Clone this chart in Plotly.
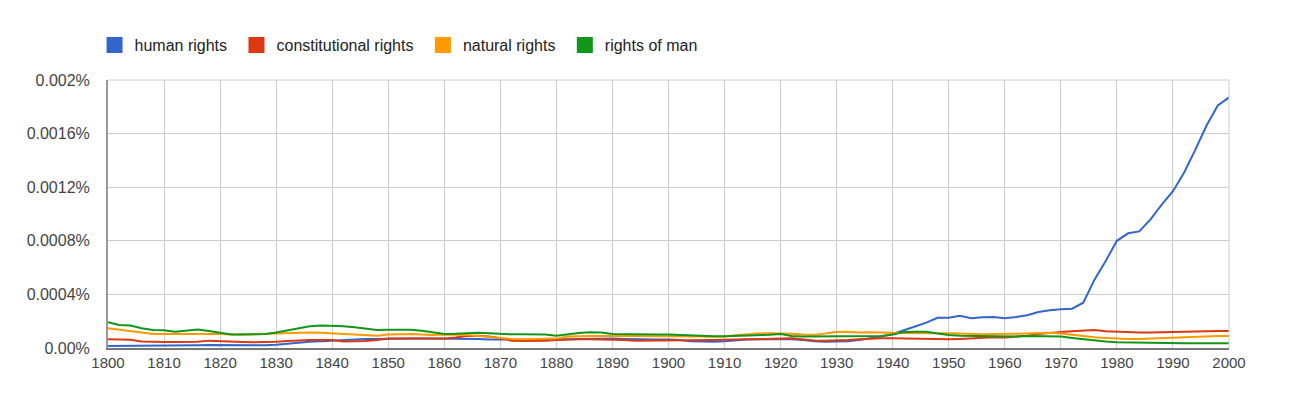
import plotly.graph_objects as go

years = list(range(1800, 2001, 2))

human_rights = [
    0.000015, 0.000015, 0.000015, 0.000015, 0.000015, 0.000015, 0.000016, 0.000017, 0.000020, 0.000022,
    0.000021, 0.000020, 0.000020, 0.000020, 0.000021, 0.000025, 0.000033, 0.000042, 0.000047, 0.000050,
    0.000055, 0.000062, 0.000065, 0.000067, 0.000068, 0.000070, 0.000070, 0.000070, 0.000070, 0.000070,
    0.000070, 0.000070, 0.000070, 0.000068, 0.000064, 0.000062, 0.000062, 0.000062, 0.000062, 0.000063,
    0.000065, 0.000068, 0.000070, 0.000070, 0.000070, 0.000070, 0.000068, 0.000065, 0.000063, 0.000063,
    0.000063, 0.000060, 0.000050, 0.000047, 0.000047, 0.000050, 0.000058, 0.000064, 0.000065, 0.000067,
    0.000067, 0.000066, 0.000060, 0.000050, 0.000047, 0.000047, 0.000050, 0.000060, 0.000070, 0.000085,
    0.000104, 0.000130, 0.000160, 0.000189, 0.000225, 0.000225, 0.000240, 0.000222, 0.000230, 0.000232,
    0.000222, 0.000232, 0.000244, 0.000268, 0.000282, 0.000289, 0.000293, 0.000338, 0.000510, 0.000650,
    0.000800, 0.000856, 0.000870, 0.000960, 0.001070, 0.001170, 0.001310, 0.001480, 0.001660, 0.001810,
    0.001870,
]

constitutional_rights = [
    0.000065, 0.000064, 0.000062, 0.000048, 0.000045, 0.000045, 0.000045, 0.000046, 0.000046, 0.000055,
    0.000050, 0.000045, 0.000045, 0.000043, 0.000043, 0.000047, 0.000052, 0.000058, 0.000060, 0.000060,
    0.000060, 0.000048, 0.000048, 0.000052, 0.000060, 0.000070, 0.000070, 0.000070, 0.000068, 0.000068,
    0.000070, 0.000078, 0.000090, 0.000092, 0.000085, 0.000072, 0.000055, 0.000052, 0.000052, 0.000055,
    0.000060, 0.000065, 0.000065, 0.000065, 0.000065, 0.000065, 0.000060, 0.000055, 0.000055, 0.000055,
    0.000058, 0.000060, 0.000060, 0.000060, 0.000060, 0.000062, 0.000065, 0.000065, 0.000065, 0.000065,
    0.000070, 0.000072, 0.000065, 0.000056, 0.000055, 0.000055, 0.000060, 0.000065, 0.000070, 0.000072,
    0.000072, 0.000070, 0.000068, 0.000065, 0.000065, 0.000065, 0.000068, 0.000072, 0.000078, 0.000080,
    0.000078, 0.000085, 0.000092, 0.000105, 0.000115, 0.000120, 0.000125, 0.000128, 0.000134, 0.000125,
    0.000120, 0.000115, 0.000115, 0.000116, 0.000118, 0.000120, 0.000125, 0.000127, 0.000127, 0.000127,
    0.000127,
]

natural_rights = [
    0.000147, 0.000137, 0.000130, 0.000115, 0.000104, 0.000104, 0.000106, 0.000106, 0.000104, 0.000105,
    0.000104, 0.000100, 0.000100, 0.000104, 0.000104, 0.000108, 0.000112, 0.000116, 0.000116, 0.000114,
    0.000110, 0.000108, 0.000100, 0.000095, 0.000092, 0.000100, 0.000104, 0.000104, 0.000100, 0.000097,
    0.000100, 0.000100, 0.000097, 0.000090, 0.000082, 0.000075, 0.000068, 0.000065, 0.000065, 0.000065,
    0.000070, 0.000085, 0.000090, 0.000090, 0.000090, 0.000088, 0.000090, 0.000090, 0.000090, 0.000090,
    0.000090, 0.000090, 0.000088, 0.000085, 0.000084, 0.000085, 0.000095, 0.000102, 0.000108, 0.000110,
    0.000110, 0.000106, 0.000100, 0.000098, 0.000108, 0.000120, 0.000122, 0.000115, 0.000118, 0.000118,
    0.000114, 0.000112, 0.000110, 0.000110, 0.000110, 0.000110, 0.000108, 0.000102, 0.000102, 0.000105,
    0.000108, 0.000106, 0.000108, 0.000112, 0.000114, 0.000108, 0.000097, 0.000090, 0.000080, 0.000075,
    0.000070, 0.000067, 0.000067, 0.000070, 0.000075, 0.000080, 0.000084, 0.000086, 0.000088, 0.000090,
    0.000090,
]

rights_of_man = [
    0.000192, 0.000172, 0.000168, 0.000147, 0.000135, 0.000132, 0.000122, 0.000130, 0.000138, 0.000127,
    0.000115, 0.000100, 0.000100, 0.000104, 0.000104, 0.000115, 0.000130, 0.000150, 0.000162, 0.000167,
    0.000167, 0.000162, 0.000155, 0.000145, 0.000135, 0.000137, 0.000137, 0.000137, 0.000128, 0.000115,
    0.000104, 0.000106, 0.000110, 0.000114, 0.000110, 0.000104, 0.000102, 0.000102, 0.000102, 0.000100,
    0.000092, 0.000104, 0.000112, 0.000118, 0.000115, 0.000105, 0.000103, 0.000100, 0.000100, 0.000100,
    0.000100, 0.000096, 0.000093, 0.000090, 0.000087, 0.000088, 0.000090, 0.000092, 0.000092, 0.000098,
    0.000104, 0.000090, 0.000085, 0.000085, 0.000085, 0.000085, 0.000085, 0.000085, 0.000087, 0.000090,
    0.000100, 0.000120, 0.000122, 0.000122, 0.000108, 0.000097, 0.000092, 0.000090, 0.000087, 0.000085,
    0.000082, 0.000085, 0.000090, 0.000090, 0.000090, 0.000085, 0.000075, 0.000065, 0.000055, 0.000048,
    0.000042, 0.000040, 0.000038, 0.000037, 0.000036, 0.000035, 0.000035, 0.000035, 0.000035, 0.000035,
    0.000035,
]

series_names = ["human rights", "constitutional rights", "natural rights", "rights of man"]
series_values = [human_rights, constitutional_rights, natural_rights, rights_of_man]
colors = ["#3366cc", "#dc3912", "#ff9900", "#109618"]

y_tick_vals = [0, 0.0004, 0.0008, 0.0012, 0.0016, 0.002]
y_tick_text = ["0.00%", "0.0004%", "0.0008%", "0.0012%", "0.0016%", "0.002%"]
x_tick_vals = list(range(1800, 2001, 10))

fig = go.Figure()
for name, vals, col in zip(series_names, series_values, colors):
    fig.add_trace(go.Scatter(x=years, y=vals, mode="lines", name=name,
                             line=dict(color=col, width=2), showlegend=False,
                             hoverinfo="skip"))
for name, col in zip(series_names, colors):
    fig.add_trace(go.Scatter(x=[None], y=[None], mode="markers", name=name + "\u00a0",
                             marker=dict(symbol="square", size=16, color=col)))

fig.update_layout(
    width=1296, height=398,
    margin=dict(l=100, r=75, t=72, b=58),
    paper_bgcolor="white", plot_bgcolor="white",
    font=dict(family="Arial, Liberation Sans, sans-serif", size=15, color="#444"),
    legend=dict(orientation="h", x=-0.012, y=1.13, xanchor="left", yanchor="middle",
                font=dict(size=16, color="#222"), itemwidth=30, traceorder="normal"),
    xaxis=dict(range=[1800, 2000], tickvals=x_tick_vals, ticktext=[str(v) for v in x_tick_vals],
               showgrid=True, gridcolor="#cccccc", gridwidth=1, zeroline=False,
               showline=True, linecolor="#777777", linewidth=2, ticks="",
               tickfont=dict(size=15, color="#444")),
    yaxis=dict(range=[0, 0.002], tickvals=y_tick_vals, ticktext=y_tick_text,
               showgrid=True, gridcolor="#cccccc", gridwidth=1, zeroline=False,
               showline=True, linecolor="#999999", linewidth=2, ticks="",
               tickfont=dict(size=16, color="#444"), ticklabelstandoff=13),
)
fig.add_shape(type="line", xref="paper", yref="paper", x0=1, x1=1, y0=0, y1=1,
              line=dict(color="#cccccc", width=1))
fig.add_shape(type="line", xref="paper", yref="paper", x0=0, x1=1, y0=1, y1=1,
              line=dict(color="#cccccc", width=1))

fig.write_html("out.html")
